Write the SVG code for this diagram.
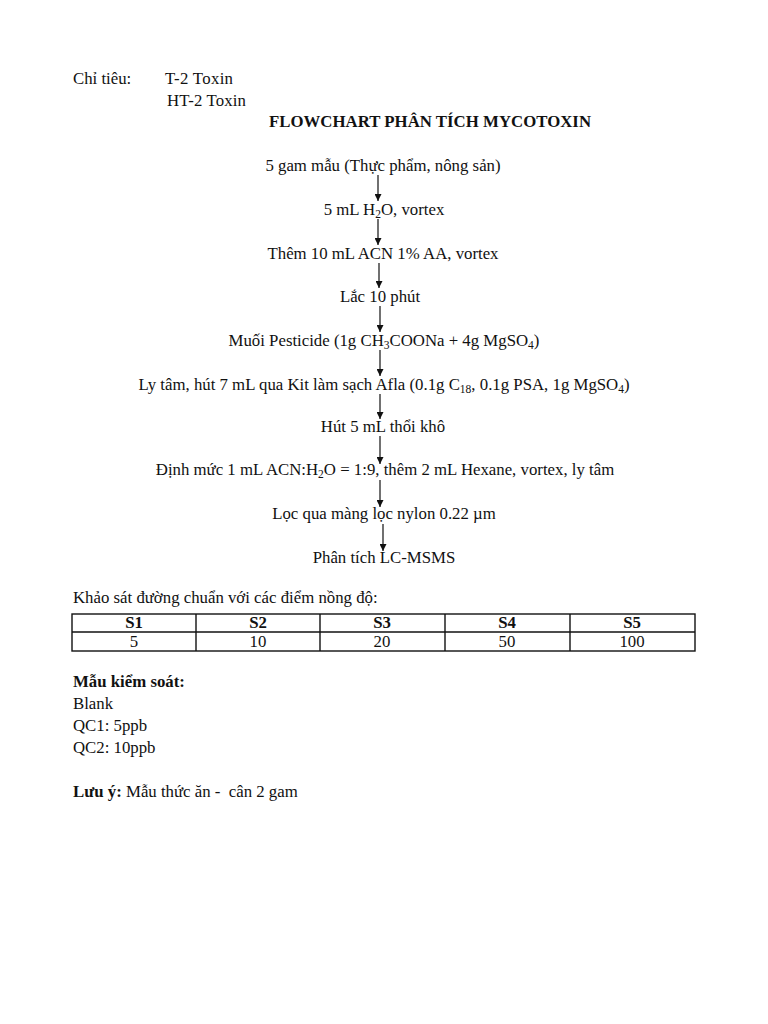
<svg xmlns="http://www.w3.org/2000/svg" width="768" height="1024" viewBox="0 0 768 1024">
<style>
text{font-family:"Liberation Serif","Times New Roman",serif;font-size:16.8px;fill:#111}
.c{text-anchor:middle}
.b{font-weight:bold}
.sub{font-size:11.5px}
.conn line{stroke:#111;stroke-width:1.2}
.tbl line,.tbl rect{stroke:#111;stroke-width:1.4;fill:none}
</style>
<defs>
<marker id="ah" viewBox="0 0 10 10" refX="10" refY="5" markerWidth="7" markerHeight="7" markerUnits="userSpaceOnUse" orient="auto">
<path d="M0,0 L10,5 L0,10 z" fill="#111"/>
</marker>
</defs>
<rect width="768" height="1024" fill="#fff"/>
<g id="header">
<text x="73" y="84">Chỉ tiêu:</text>
<text x="165" y="84" textLength="68" lengthAdjust="spacing">T-2 Toxin</text>
<text x="167" y="106" textLength="79" lengthAdjust="spacing">HT-2 Toxin</text>
<text x="269" y="127" class="b" textLength="322" lengthAdjust="spacing">FLOWCHART PHÂN TÍCH MYCOTOXIN</text>
</g>
<g id="n1"><text x="383" y="171" class="c">5 gam mẫu (Thực phẩm, nông sản)</text></g>
<g id="n2"><text x="384" y="215" class="c">5 mL H<tspan class="sub" dy="3">2</tspan><tspan dy="-3">O, vortex</tspan></text></g>
<g id="n3"><text x="383" y="259" class="c">Thêm 10 mL ACN 1% AA, vortex</text></g>
<g id="n4"><text x="380" y="302" class="c">Lắc 10 phút</text></g>
<g id="n5"><text x="384" y="346" class="c">Muối Pesticide (1g CH<tspan class="sub" dy="3">3</tspan><tspan dy="-3">COONa + 4g MgSO</tspan><tspan class="sub" dy="3">4</tspan><tspan dy="-3">)</tspan></text></g>
<g id="n6"><text x="384" y="390" class="c">Ly tâm, hút 7 mL qua Kit làm sạch Afla (0.1g C<tspan class="sub" dy="3">18</tspan><tspan dy="-3">, 0.1g PSA, 1g MgSO</tspan><tspan class="sub" dy="3">4</tspan><tspan dy="-3">)</tspan></text></g>
<g id="n7"><text x="383" y="432" class="c">Hút 5 mL thổi khô</text></g>
<g id="n8"><text x="385" y="475" class="c">Định mức 1 mL ACN:H<tspan class="sub" dy="3">2</tspan><tspan dy="-3">O = 1:9, thêm 2 mL Hexane, vortex, ly tâm</tspan></text></g>
<g id="n9"><text x="384" y="519" class="c">Lọc qua màng lọc nylon 0.22 µm</text></g>
<g id="n10"><text x="384" y="563" class="c">Phân tích LC-MSMS</text></g>
<g class="conn" id="connectors">
<line x1="378" y1="175" x2="378" y2="201" marker-end="url(#ah)"/>
<line x1="378" y1="219" x2="378" y2="245" marker-end="url(#ah)"/>
<line x1="379" y1="263" x2="379" y2="288" marker-end="url(#ah)"/>
<line x1="380" y1="306" x2="380" y2="332" marker-end="url(#ah)"/>
<line x1="380" y1="350" x2="380" y2="376" marker-end="url(#ah)"/>
<line x1="380" y1="394" x2="380" y2="419" marker-end="url(#ah)"/>
<line x1="380" y1="436" x2="380" y2="464" marker-end="url(#ah)"/>
<line x1="380" y1="480" x2="380" y2="507" marker-end="url(#ah)"/>
<line x1="383" y1="524" x2="383" y2="551" marker-end="url(#ah)"/>
</g>
<g id="calib">
<text x="73" y="603">Khảo sát đường chuẩn với các điểm nồng độ:</text>
<g class="tbl">
<rect x="72" y="614" width="623" height="37"/>
<line x1="72" y1="632" x2="695" y2="632"/>
<line x1="196" y1="614" x2="196" y2="651"/>
<line x1="320" y1="614" x2="320" y2="651"/>
<line x1="445" y1="614" x2="445" y2="651"/>
<line x1="570" y1="614" x2="570" y2="651"/>
</g>
<text x="134" y="628" class="c b">S1</text>
<text x="258" y="628" class="c b">S2</text>
<text x="382" y="628" class="c b">S3</text>
<text x="507" y="628" class="c b">S4</text>
<text x="632" y="628" class="c b">S5</text>
<text x="134" y="647" class="c">5</text>
<text x="258" y="647" class="c">10</text>
<text x="382" y="647" class="c">20</text>
<text x="507" y="647" class="c">50</text>
<text x="632" y="647" class="c">100</text>
</g>
<g id="qc">
<text x="73" y="687" class="b">Mẫu kiểm soát:</text>
<text x="73" y="709">Blank</text>
<text x="73" y="731">QC1: 5ppb</text>
<text x="73" y="753">QC2: 10ppb</text>
<text x="73" y="797"><tspan class="b">Lưu ý:</tspan> Mẫu thức ăn -&#160; cân 2 gam</text>
</g>
</svg>
